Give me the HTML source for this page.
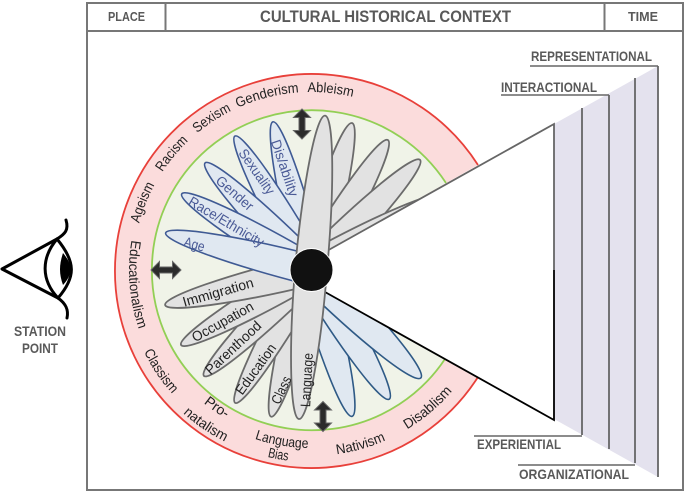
<!DOCTYPE html>
<html><head><meta charset="utf-8"><style>
html,body{margin:0;padding:0;background:#fff}
svg{display:block}
text{font-family:"Liberation Sans",sans-serif}
.h{font-weight:bold;fill:#595959}
.r{font-size:14px;fill:#222}
.b{font-size:14px;fill:#4a5a96;text-anchor:middle;dominant-baseline:central}
.g{font-size:14px;fill:#222;text-anchor:middle;dominant-baseline:central}
.pb{fill:#e0e8f1;stroke:#3f5a94;stroke-width:1.6}
.pd{fill:#e0e8f1;stroke:#2f5a86;stroke-width:1.6}
.pg{fill:#e2e2e2;stroke:#6b6b6b;stroke-width:1.8}
</style></head><body>
<svg width="685" height="492" viewBox="0 0 685 492" xmlns="http://www.w3.org/2000/svg">
<defs>
<path id="t178" d="M133 270A178 178 0 0 1 489 270"/>
<path id="c182" d="M311 88A182 182 0 1 0 493 270"/>
<path id="c186" d="M311 84A186 186 0 1 0 497 270"/>
<path id="c171" d="M311 99A171 171 0 1 0 482 270"/>
<path id="c192" d="M311 78A192 192 0 1 0 503 270"/>
<path id="c178" d="M311 92A178 178 0 1 0 489 270"/>
<path id="ar" d="M-15 0L-6.500 -8.500L-6.500 -3L6.500 -3L6.500 -8.500L15 0L6.500 8.500L6.500 3L-6.500 3L-6.500 8.500Z"/>
</defs>

<!-- frame -->
<rect x="87" y="3" width="596" height="487" fill="#fff" stroke="#777" stroke-width="2"/>
<path d="M87 31H683M165.500 3V31M604.500 3V31" stroke="#777" stroke-width="2" fill="none"/>
<text x="108" y="21" class="h" font-size="13" textLength="37" lengthAdjust="spacingAndGlyphs">PLACE</text>
<text x="260" y="22" class="h" font-size="17" textLength="251" lengthAdjust="spacingAndGlyphs">CULTURAL HISTORICAL CONTEXT</text>
<text x="628" y="21" class="h" font-size="13" textLength="30" lengthAdjust="spacingAndGlyphs">TIME</text>

<!-- rings -->
<path d="M325 252L478 165A197 197 0 1 0 478 377L325 292Z" fill="#fbdcdc"/>
<path d="M478 165A197 197 0 1 0 478 377" fill="none" stroke="#e8403a" stroke-width="1.800"/>
<path d="M325 252L446 183A160 160 0 1 0 445 359L325 292Z" fill="#f0f3e8"/>
<path d="M446 183A160 160 0 1 0 445 359" fill="none" stroke="#92cf55" stroke-width="1.800"/>

<!-- petals, half ellipses centred on hub -->
<g transform="translate(311 270)">
<path class="pb" transform="rotate(255.6)" d="M0 -15A153 15 0 0 1 0 15Z"/>
<path class="pb" transform="rotate(240.4)" d="M0 -15A154 15 0 0 1 0 15Z"/>
<path class="pb" transform="rotate(225.3)" d="M0 -15A150.600 15 0 0 1 0 15Z"/>
<path class="pb" transform="rotate(210.5)" d="M0 -15A150 15 0 0 1 0 15Z"/>

<path class="pg" transform="rotate(105.2)" d="M0 -15A152 15 0 0 1 0 15Z"/>
<path class="pg" transform="rotate(119.7)" d="M0 -15A153 15 0 0 1 0 15Z"/>
<path class="pg" transform="rotate(135.300)" d="M0 -15A150.600 15 0 0 1 0 15Z"/>
<path class="pg" transform="rotate(150)" d="M0 -15A150 15 0 0 1 0 15Z"/>
<path class="pg" transform="rotate(166.5)" d="M0 -15A150 15 0 0 1 0 15Z"/>
<path class="pb" transform="rotate(194.3)" d="M0 -15A150 15 0 0 1 0 15Z"/>

<path class="pg" transform="rotate(-74.4)" d="M0 -16A152.600 16 0 0 1 0 16Z"/>
<path class="pg" transform="rotate(-59.4)" d="M0 -16A151 16 0 0 1 0 16Z"/>
<path class="pg" transform="rotate(-45.3)" d="M0 -16A155 16 0 0 1 0 16Z"/>
<path class="pg" transform="rotate(-29)" d="M0 -17A154 17 0 0 1 0 17Z"/>

<path class="pd" transform="rotate(74.300)" d="M0 -16A152 16 0 0 1 0 16Z"/>
<path class="pd" transform="rotate(58.8)" d="M0 -16A151 16 0 0 1 0 16Z"/>
<path class="pd" transform="rotate(44.5)" d="M0 -17A154 17 0 0 1 0 17Z"/>
</g>

<!-- shaded projection -->
<path d="M554 124L658 66V477L554 419Z" fill="#e4e2ee"/>
<!-- white wedge -->
<path d="M325 252L554 124V420L325 292Z" fill="#fff"/>
<path d="M325 252L554 124V270" fill="none" stroke="#666" stroke-width="1.800"/>
<path d="M325 292L554 420V270" fill="none" stroke="#000" stroke-width="1.800"/>
<path d="M582 108V435M609 95V449M635 78V463M658 66V477" stroke="#666" stroke-width="1.800" fill="none"/>

<!-- central large petals -->
<g transform="translate(311 270)">
<path class="pg" transform="rotate(-84.8)" d="M0 -16A155 16 0 0 1 0 16Z"/>
<path class="pg" transform="rotate(94.6)" d="M0 -16A149.500 16 0 0 1 0 16Z"/>
</g>
<circle cx="311.500" cy="270" r="21.500" fill="#111" stroke="#fff" stroke-width="1"/>

<!-- arrows -->
<use href="#ar" transform="translate(302 124) rotate(90)" fill="#2b2b2b" stroke="#666" stroke-width="1"/>
<use href="#ar" transform="translate(166 270)" fill="#2b2b2b" stroke="#666" stroke-width="1"/>
<use href="#ar" transform="translate(323 416.500) rotate(90)" fill="#2b2b2b" stroke="#666" stroke-width="1"/>

<!-- ring labels -->
<text class="r"><textPath href="#t178" startOffset="276" textLength="45.700" lengthAdjust="spacingAndGlyphs">Ableism</textPath></text>
<text class="r"><textPath href="#t178" startOffset="204" textLength="63.400" lengthAdjust="spacingAndGlyphs">Genderism</textPath></text>
<text class="r"><textPath href="#t178" startOffset="156" textLength="41" lengthAdjust="spacingAndGlyphs">Sexism</textPath></text>
<text class="r"><textPath href="#t178" startOffset="103.600" textLength="40.700" lengthAdjust="spacingAndGlyphs">Racism</textPath></text>
<text class="r"><textPath href="#t178" startOffset="47.200" textLength="41.600" lengthAdjust="spacingAndGlyphs">Ageism</textPath></text>
<text class="r"><textPath href="#c182" startOffset="255.600" textLength="90.500" lengthAdjust="spacingAndGlyphs">Educationalism</textPath></text>
<text class="r"><textPath href="#c186" startOffset="376.600" textLength="51" lengthAdjust="spacingAndGlyphs">Classism</textPath></text>
<text class="r"><textPath href="#c171" startOffset="420.900" textLength="27" lengthAdjust="spacingAndGlyphs">Pro-</textPath></text>
<text class="r"><textPath href="#c192" startOffset="463" textLength="50.600" lengthAdjust="spacingAndGlyphs">natalism</textPath></text>
<text class="r"><textPath href="#c178" startOffset="501.800" textLength="54.400" lengthAdjust="spacingAndGlyphs">Language</textPath></text>
<text class="r"><textPath href="#c192" startOffset="559" textLength="20.800" lengthAdjust="spacingAndGlyphs">Bias</textPath></text>
<text class="r"><textPath href="#c186" startOffset="610" textLength="51" lengthAdjust="spacingAndGlyphs">Nativism</textPath></text>
<text class="r"><textPath href="#c186" startOffset="685" textLength="59.400" lengthAdjust="spacingAndGlyphs">Disablism</textPath></text>

<!-- petal labels -->
<text class="b" transform="translate(285 168) rotate(71.2)" textLength="59" lengthAdjust="spacingAndGlyphs">Dis/ability</text>
<text class="b" transform="translate(257 171.500) rotate(55)" textLength="52" lengthAdjust="spacingAndGlyphs">Sexuality</text>
<text class="b" transform="translate(235 193) rotate(41)" textLength="45" lengthAdjust="spacingAndGlyphs">Gender</text>
<text class="b" transform="translate(226.500 221.500) rotate(30.500)" textLength="85" lengthAdjust="spacingAndGlyphs">Race/Ethnicity</text>
<text class="b" transform="translate(194.500 244) rotate(16)" textLength="21" lengthAdjust="spacingAndGlyphs">Age</text>
<text class="g" transform="translate(218 292) rotate(-16)" textLength="73" lengthAdjust="spacingAndGlyphs">Immigration</text>
<text class="g" transform="translate(222.500 321.500) rotate(-29)" textLength="68" lengthAdjust="spacingAndGlyphs">Occupation</text>
<text class="g" transform="translate(233 347.500) rotate(-43)" textLength="71" lengthAdjust="spacingAndGlyphs">Parenthood</text>
<text class="g" transform="translate(255.500 369) rotate(-54)" textLength="59" lengthAdjust="spacingAndGlyphs">Education</text>
<text class="g" transform="translate(281 390) rotate(-65)" textLength="29" lengthAdjust="spacingAndGlyphs">Class</text>
<text class="g" transform="translate(306.500 380) rotate(-87)" textLength="54" lengthAdjust="spacingAndGlyphs">Language</text>

<!-- level labels -->
<path d="M530 66H658M501 95H609M474 436H582M518 465H635" stroke="#666" stroke-width="1.500" fill="none"/>
<text x="531" y="61" class="h" font-size="14" textLength="121" lengthAdjust="spacingAndGlyphs">REPRESENTATIONAL</text>
<text x="501" y="92" class="h" font-size="14" textLength="96" lengthAdjust="spacingAndGlyphs">INTERACTIONAL</text>
<text x="477" y="449" class="h" font-size="14" textLength="84" lengthAdjust="spacingAndGlyphs">EXPERIENTIAL</text>
<text x="519" y="479" class="h" font-size="14" textLength="110" lengthAdjust="spacingAndGlyphs">ORGANIZATIONAL</text>

<!-- eye -->
<g fill="none" stroke="#000" stroke-width="3" stroke-linecap="round" stroke-linejoin="round">
<path d="M57 239L2 269L58 298"/>
<path d="M66 220C69 230 65 234 57 239"/>
<path d="M58 298C65 303 69 309 67 318"/>
<path d="M57 239C41 258 41 280 58 298"/>
<path d="M57 239C76 262 76 277 58 298"/>
</g>
<path d="M63 253C73 265 73 274 63 285C59 274 59 265 63 253Z" fill="#000"/>
<text x="40" y="336" class="h" font-size="14" text-anchor="middle" textLength="52" lengthAdjust="spacingAndGlyphs">STATION</text>
<text x="40" y="353" class="h" font-size="14" text-anchor="middle" textLength="36" lengthAdjust="spacingAndGlyphs">POINT</text>
</svg>
</body></html>
